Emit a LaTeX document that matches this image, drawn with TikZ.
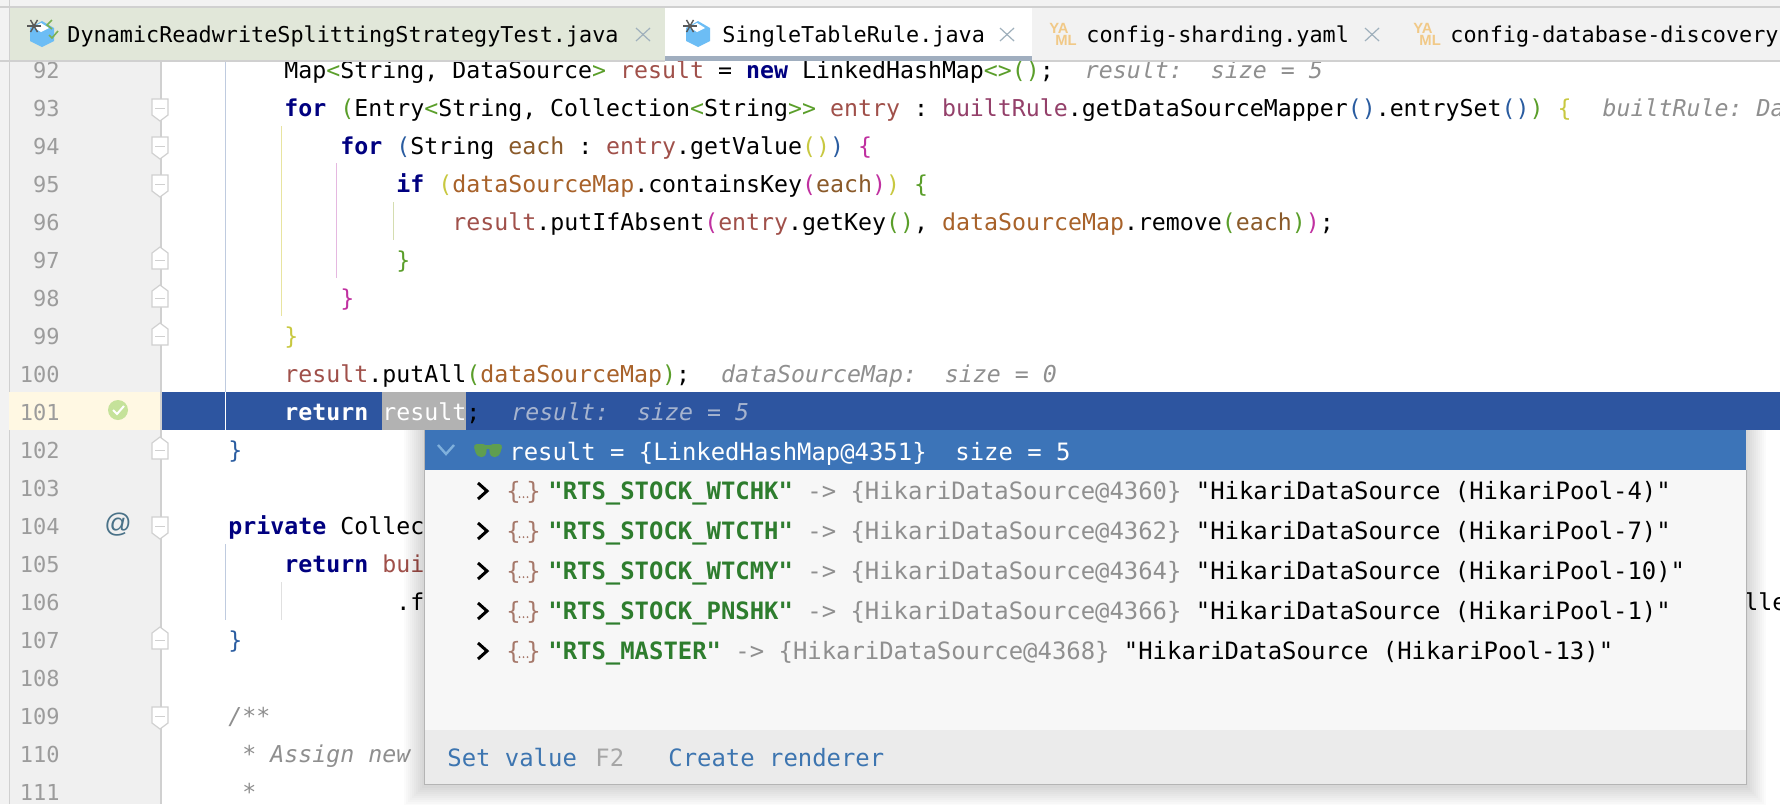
\documentclass[tikz,border=0pt]{standalone}
\usepackage{fontspec}
\usepackage{xcolor}
\setmonofont{DejaVu Sans Mono}
\setsansfont{Liberation Sans}
\usetikzlibrary{positioning}
\definecolor{guttergray}{HTML}{F0F0F0}
\definecolor{framegray}{HTML}{D0D0D0}
\definecolor{tabgray}{HTML}{F2F2F2}
\definecolor{tabgreen}{HTML}{E1E7D9}
\definecolor{tabline}{HTML}{A0AEBF}
\definecolor{crossgray}{HTML}{9FB0BC}
\definecolor{numgray}{HTML}{9C9C9C}
\definecolor{hintgray}{HTML}{8F8F8F}
\definecolor{hinthl}{HTML}{A6B4CF}
\definecolor{kwnavy}{HTML}{000080}
\definecolor{locbrick}{HTML}{A0504A}
\definecolor{fldplum}{HTML}{94406A}
\definecolor{eachbrown}{HTML}{8A5A2A}
\definecolor{mapbrown}{HTML}{A8622A}
\definecolor{brgreen}{HTML}{5A9E2A}
\definecolor{brblue}{HTML}{2A5CA0}
\definecolor{bryellow}{HTML}{C8C840}
\definecolor{brpink}{HTML}{C030A0}
\definecolor{guideblue}{HTML}{BFCBDF}
\definecolor{guideyellow}{HTML}{E8E4A0}
\definecolor{guidepink}{HTML}{E5B8E0}
\definecolor{guidegreen}{HTML}{D5DDB0}
\definecolor{hlblue}{HTML}{2D55A0}
\definecolor{hlgutter}{HTML}{FFF8E3}
\definecolor{hlcheck}{HTML}{C5E29A}
\definecolor{atteal}{HTML}{4A7288}
\definecolor{popblue}{HTML}{3C74B8}
\definecolor{popbody}{HTML}{F7F7F7}
\definecolor{popfoot}{HTML}{EBEBEB}
\definecolor{popedge}{HTML}{B4B4B4}
\definecolor{glassgreen}{HTML}{5F9E50}
\definecolor{chevblue}{HTML}{7FB0DC}
\definecolor{keygreen}{HTML}{2E7D2E}
\definecolor{linkblue}{HTML}{3D75B0}
\definecolor{bracebrown}{HTML}{A6786A}
\definecolor{yamlorange}{HTML}{F1C987}
\definecolor{hexblue}{HTML}{6CBDF5}
\newcommand{\kw}[1]{\textcolor{kwnavy}{\bfseries #1}}
\newcommand{\lc}[1]{\textcolor{locbrick}{#1}}
\newcommand{\ea}[1]{\textcolor{eachbrown}{#1}}
\newcommand{\mb}[1]{\textcolor{mapbrown}{#1}}
\newcommand{\cg}[1]{\textcolor{brgreen}{#1}}
\newcommand{\cb}[1]{\textcolor{brblue}{#1}}
\newcommand{\cy}[1]{\textcolor{bryellow}{#1}}
\newcommand{\cp}[1]{\textcolor{brpink}{#1}}
\newcommand{\hint}[1]{\textcolor{hintgray}{\itshape #1}}
\tikzset{
    codetext/.style={anchor=base west, inner sep=0pt, font=\ttfamily\fontsize{11.62}{14}\selectfont, text=black},
    poptext/.style={anchor=base west, inner sep=0pt, font=\ttfamily\fontsize{11.95}{14}\selectfont, text=black},
    tabtext/.style={anchor=base west, inner sep=0pt, font=\ttfamily\fontsize{10.9}{13}\selectfont, text=black},
    numtext/.style={anchor=base east, inner sep=0pt, font=\ttfamily\fontsize{11}{13}\selectfont, text=numgray},
    guide/.style={line width=0.5pt},
    foldmark/.style={draw=framegray, fill=white, line width=0.6pt},
    foldminus/.style={draw=framegray, line width=0.5pt},
    tabcross/.style={draw=crossgray, line width=0.6pt},
    yamltext/.style={inner sep=0pt, font=\sffamily\bfseries\fontsize{7.4}{8}\selectfont, text=yamlorange},
    hexicon/.style={fill=hexblue},
    chevron/.style={line width=1.5pt, black}
}
\begin{document}
\begin{tikzpicture}[x=0.5pt, y=-0.5pt]
    \clip (0, 0) rectangle (1780, 804);
    \fill [white] (0, 0) rectangle (1780, 804);
    \fill [guttergray] (9, 0) rectangle (161, 804);
    \fill [tabgray] (0, 0) rectangle (9, 804);
    \fill [framegray] (8.5, 0) rectangle (10, 804);
    \fill [framegray] (160, 0) rectangle (161.5, 804);

    \draw [guide, color=guideblue] (225, 61) -- (225, 392);
    \draw [guide, color=guideblue] (225, 544) -- (225, 620);
    \draw [guide, color=guideyellow] (281, 126) -- (281, 316);
    \draw [guide, color=guidepink] (336.5, 163) -- (336.5, 278);
    \draw [guide, color=guidegreen] (393, 202) -- (393, 240);
    \draw [guide, color=black!12] (281, 582) -- (281, 620);

    \foreach \n in {92,...,111} {
        \pgfmathtruncatemacro{\yy}{78+38*(\n-92)}
        \node [numtext] (num\n) at (60, \yy) {\n};
    }
    \foreach \n in {93,94,95,104,109} {
        \pgfmathtruncatemacro{\yy}{70+38*(\n-92)}
        \draw [foldmark] (152, \yy-9) -- (168, \yy-9) -- (168, \yy+7) -- (160, \yy+13) -- (152, \yy+7) -- cycle;
        \draw [foldminus] (155, \yy) -- (165, \yy);
    }
    \foreach \n in {97,98,99,102,107} {
        \pgfmathtruncatemacro{\yy}{70+38*(\n-92)}
        \draw [foldmark] (152, \yy+9) -- (168, \yy+9) -- (168, \yy-7) -- (160, \yy-13) -- (152, \yy-7) -- cycle;
        \draw [foldminus] (155, \yy) -- (165, \yy);
    }
    \node [anchor=base, inner sep=0pt, font=\sffamily\fontsize{13.5}{15}\selectfont, text=atteal] (atmark) at (118, 532) {@};

    \node [codetext] (code92) at (284, 78) {Map\cg{<}String, DataSource\cg{>} \lc{result} = \kw{new} LinkedHashMap\cg{<>}\cg{()};~~\hspace{1.5pt}\hint{result:~~size = 5}};
    \node [codetext] (code93) at (284, 116) {\kw{for} \cg{(}Entry\cg{<}String, Collection\cg{<}String\cg{>>} \lc{entry} : \textcolor{fldplum}{builtRule}.getDataSourceMapper\cb{()}.entrySet\cb{()}\cg{)} \cy{\{}~~\hspace{1.5pt}\hint{builtRule: Da}};
    \node [codetext] (code94) at (340, 154) {\kw{for} \cb{(}String \ea{each} : \lc{entry}.getValue\cy{()}\cb{)} \cp{\{}};
    \node [codetext] (code95) at (396, 192) {\kw{if} \cy{(}\mb{dataSourceMap}.containsKey\cp{(}\ea{each}\cp{)}\cy{)} \cg{\{}};
    \node [codetext] (code96) at (452, 230) {\lc{result}.putIfAbsent\cp{(}\lc{entry}.getKey\cg{()}, \mb{dataSourceMap}.remove\cg{(}\ea{each}\cg{)}\cp{)};};
    \node [codetext] (code97) at (396, 268) {\cg{\}}};
    \node [codetext] (code98) at (340, 306) {\cp{\}}};
    \node [codetext] (code99) at (284, 344) {\cy{\}}};
    \node [codetext] (code100) at (284, 382) {\lc{result}.putAll\cg{(}\mb{dataSourceMap}\cg{)};~~\hspace{1.5pt}\hint{dataSourceMap:~~size = 0}};
    \node [codetext] (code102) at (228, 458) {\cb{\}}};
    \node [codetext] (code104) at (228, 534) {\kw{private} Collec};
    \node [codetext] (code105) at (284, 572) {\kw{return} \lc{bui}};
    \node [codetext] (code106) at (396, 610) {.f};
    \node [codetext] (code106end) at (1744, 610) {lle};
    \node [codetext] (code107) at (228, 648) {\cb{\}}};
    \node [codetext] (code109) at (228, 724) {\hint{/**}};
    \node [codetext] (code110) at (242, 762) {\hint{* Assign new}};
    \node [codetext] (code111) at (242, 800) {\hint{*}};

    % shadow of the popup
    \foreach \s in {1,...,10} {
        \fill [black, opacity=0.014] (424-2*\s, 430) rectangle (1746+2*\s, 786+2*\s);
    }

    \fill [hlblue] (161, 392) rectangle (1780, 430);
    \fill [hlgutter] (9, 392) rectangle (160, 430);
    \fill [framegray] (160, 392) rectangle (161.5, 430);
    \node [numtext] (num101hl) at (60, 420) {101};
    \fill [hlcheck] (118, 410) circle (10);
    \draw [white, line width=1pt] (113, 410) -- (117, 414) -- (124, 406);
    \draw [guide, color=white] (225, 392) -- (225, 430);
    \fill [black!30] (382, 392) rectangle (466, 430);
    \node [codetext] (code101) at (284, 420) {\textcolor{white}{\bfseries return} \textcolor{white}{result};~~\hspace{1.5pt}\textcolor{hinthl}{\itshape result:~~size = 5}};

    \fill [popbody] (424, 430) rectangle (1746, 784);
    \fill [popblue] (424, 430) rectangle (1746, 470);
    \fill [popfoot] (424, 730) rectangle (1746, 784);
    \draw [popedge, line width=0.5pt] (424, 430) -- (424, 784) -- (1746, 784) -- (1746, 470);
    \draw [line width=1.2pt, color=chevblue] (438, 445) -- (446, 454) -- (454, 445);
    \fill [rounded corners=2pt, glassgreen] (473, 444) -- (487, 444) -- (486, 457) -- (477, 457) -- cycle;
    \fill [rounded corners=2pt, glassgreen] (489, 444) -- (503, 444) -- (499, 457) -- (490, 457) -- cycle;
    \fill [glassgreen] (485, 445) rectangle (491, 449);
    \node [poptext] (headtext) at (509, 460) {\textcolor{white}{result = \{LinkedHashMap@4351\}~~size = 5}};

    \foreach \rowkey/\rowid/\rowpool [count=\i] in {
        RTS\_STOCK\_WTCHK/4360/4,
        RTS\_STOCK\_WTCTH/4362/7,
        RTS\_STOCK\_WTCMY/4364/10,
        RTS\_STOCK\_PNSHK/4366/1,
        RTS\_MASTER/4368/13} {
        \pgfmathtruncatemacro{\yy}{491+40*(\i-1)}
        \draw [chevron] (478, \yy-8) -- (487, \yy) -- (478, \yy+8);
        \node [poptext, text=bracebrown] (bropen\i) at (506, \yy+8) {\{};
        \node [poptext, text=bracebrown] (brclose\i) at (526, \yy+8) {\}};
        \foreach \dx in {519.5, 523.5, 527.5} {
            \fill [bracebrown] (\dx, \yy+6) circle (1);
        }
        \node [poptext] (rowtext\i) at (548, \yy+8) {\textcolor{keygreen}{\bfseries "\rowkey"} \textcolor{hintgray}{-> \{HikariDataSource@\rowid\}} "HikariDataSource (HikariPool-\rowpool)"};
    }

    \node [poptext, text=linkblue] (setvalue) at (447, 766) {Set value};
    \node [poptext, text=black!35] (fkey) at (595, 766) {F2};
    \node [poptext, text=linkblue] (renderer) at (668, 766) {Create renderer};

    \fill [tabgray] (0, 0) rectangle (1780, 61);
    \fill [framegray] (0, 6) rectangle (1780, 8);
    \fill [framegray] (8.5, 0) rectangle (10, 61);
    \fill [tabgreen] (10, 8) rectangle (665, 60);
    \fill [white] (665, 8) rectangle (1032, 60);
    \fill [tabline] (665, 56) rectangle (1032, 60);
    \fill [framegray] (0, 60) rectangle (665, 62);
    \fill [framegray] (1032, 60) rectangle (1780, 62);
    \fill [tabline] (665, 60) rectangle (1032, 61);

    \node [tabtext] (tab1) at (67, 42) {DynamicReadwriteSplittingStrategyTest.java};
    \node [tabtext] (tab2) at (722, 42) {SingleTableRule.java};
    \node [tabtext] (tab3) at (1086, 42) {config-sharding.yaml};
    \node [tabtext] (tab4) at (1450, 42) {config-database-discovery};

    \foreach \cx in {643, 1007, 1372} {
        \draw [tabcross] (\cx-7, 28) -- (\cx+7, 41);
        \draw [tabcross] (\cx+7, 28) -- (\cx-7, 41);
    }

    \foreach \hx/\tabname in {42/one, 698/two} {
        \fill [hexicon] (\hx, 21) -- (\hx+12, 28) -- (\hx+12, 41) -- (\hx, 47) -- (\hx-12, 41) -- (\hx-12, 28) -- cycle;
        \fill [white] (\hx-9, 27) -- (\hx-1, 23) -- (\hx+7, 28) -- (\hx-1, 32) -- cycle;
        \foreach \a in {0, 60, 120} {
            \draw [black!65, line width=0.7pt] ([shift={(\a:7)}]\hx-8, 26) -- ([shift={(\a+180:7)}]\hx-8, 26);
        }
    }
    \draw [brgreen!80!white, line width=0.8pt] (52, 20) -- (47, 25) -- (52, 29);
    \draw [brgreen!80!white, line width=0.8pt] (49, 35) -- (52, 38) -- (58, 31);

    \foreach \yx/\tabname in {1049/yamlone, 1413/yamltwo} {
        \node [yamltext, anchor=base west] (ya\tabname) at (\yx, 33) {YA};
        \node [yamltext, anchor=base west] (ml\tabname) at (\yx+6, 45) {ML};
    }
\end{tikzpicture}
\end{document}
